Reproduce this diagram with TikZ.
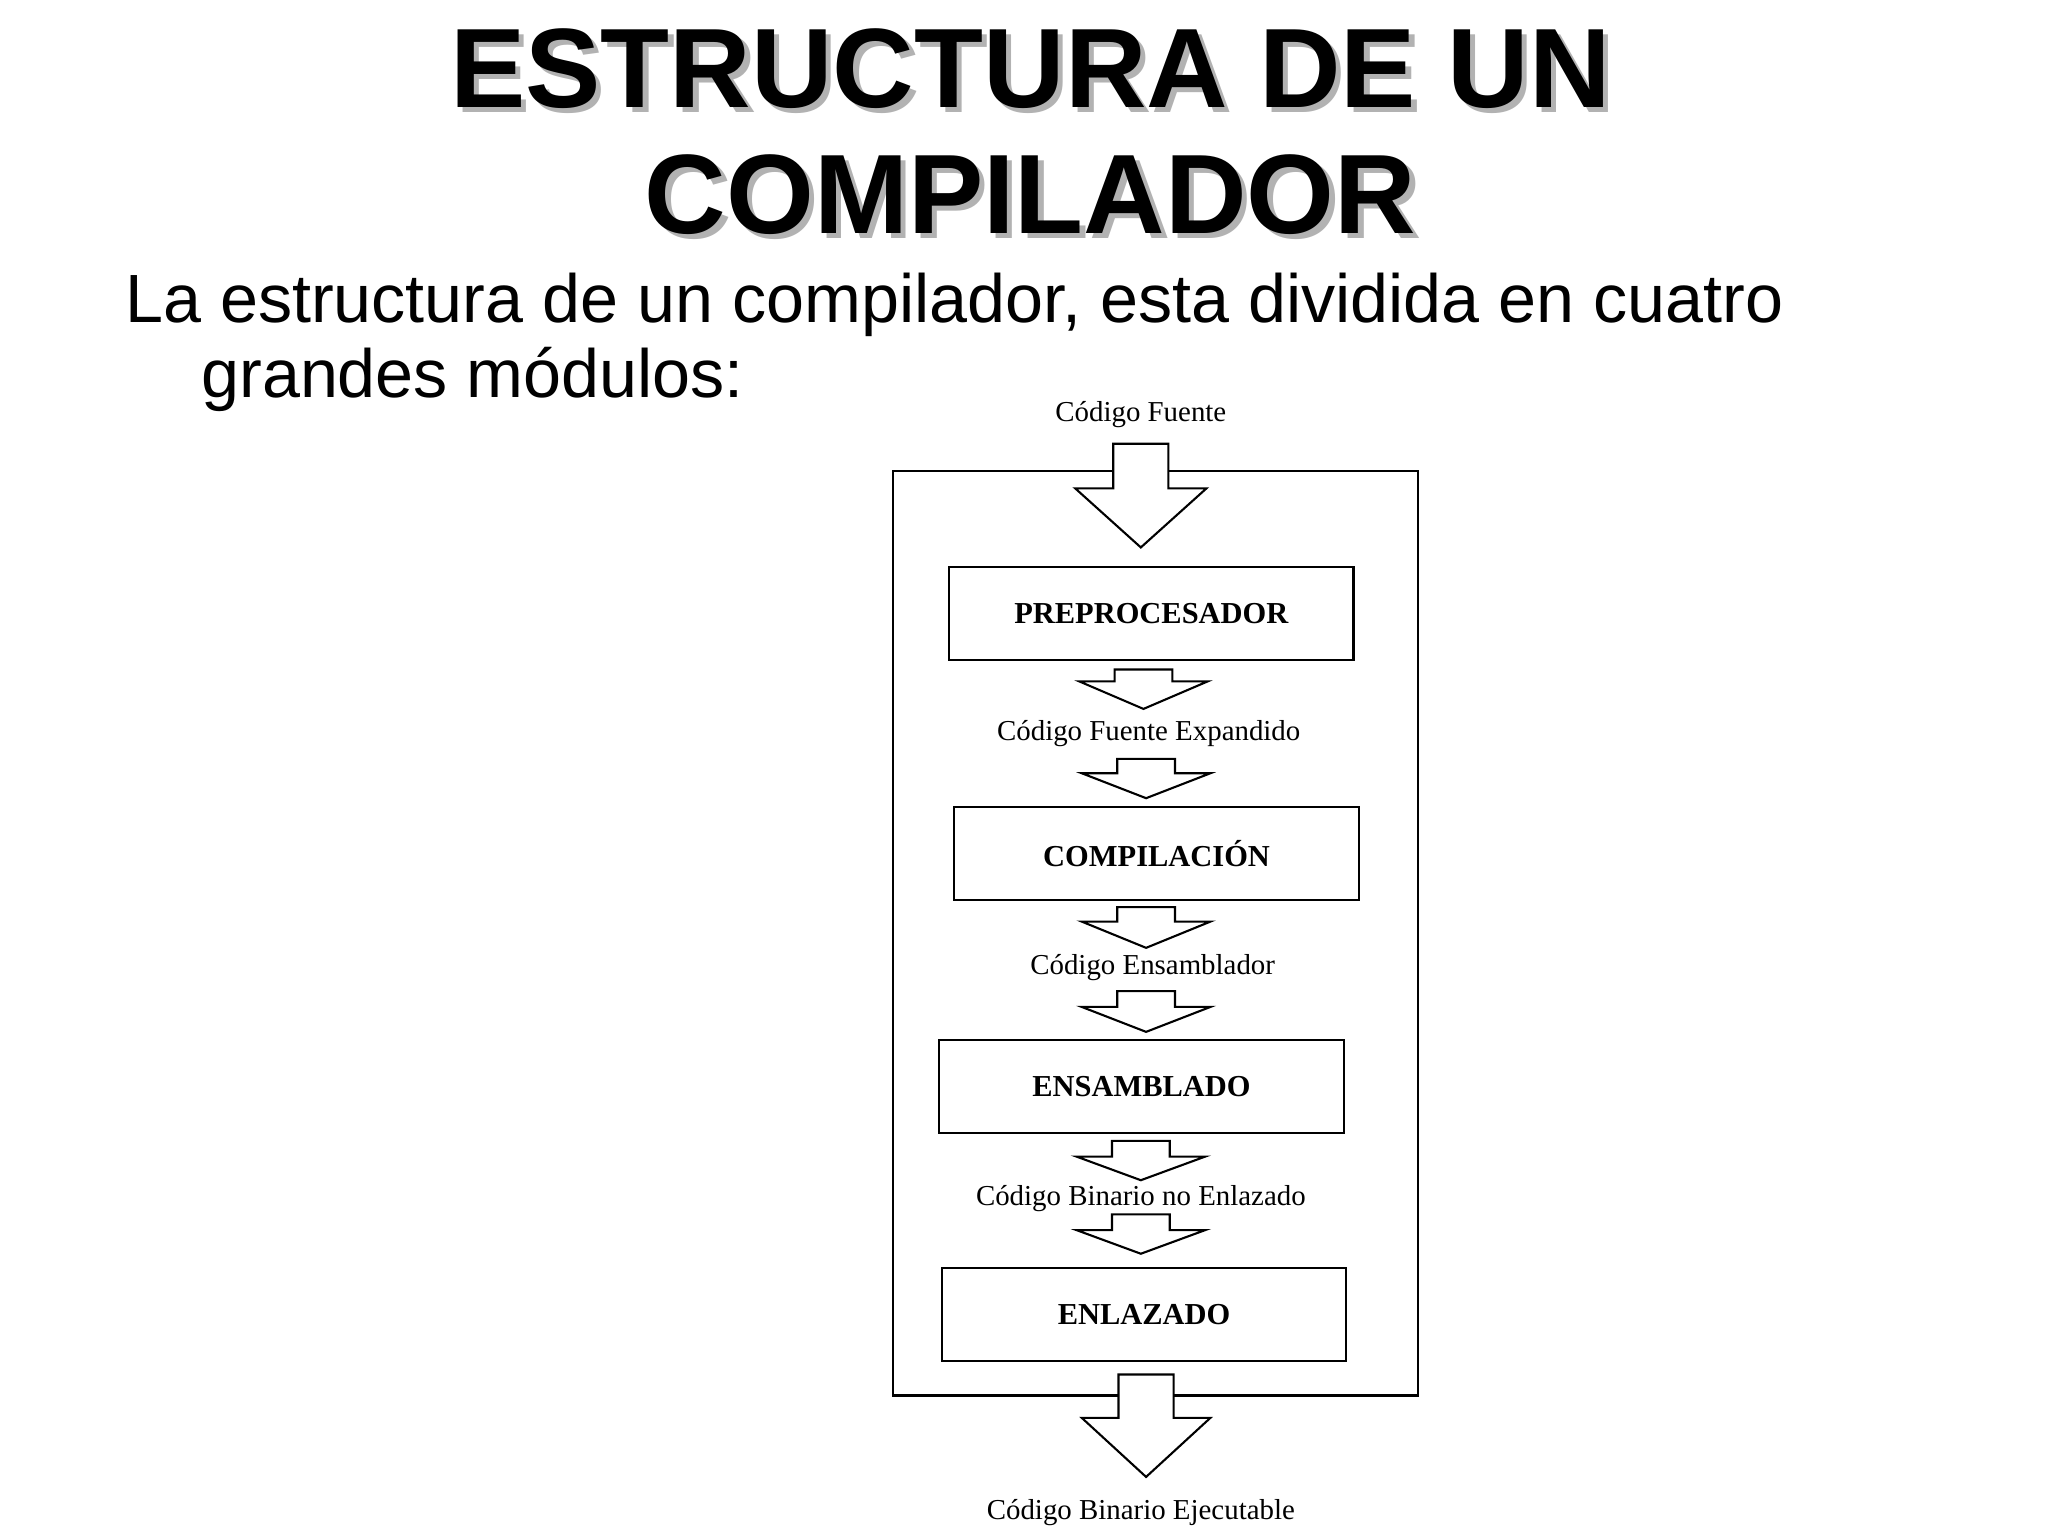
\documentclass[tikz,border=0pt]{standalone}
\usepackage{fontspec}
\setmainfont{Liberation Sans}
\newfontfamily\serifd{Liberation Serif}
\begin{document}
\begin{tikzpicture}[x=0.5pt,y=-0.5pt,
  box/.style={draw,thick,minimum width=154pt,minimum height=35.5pt,font=\serifd\bfseries\fontsize{11.6}{13}\selectfont},
  lbl/.style={font=\serifd\fontsize{11}{13}\selectfont,inner sep=0pt},
  arr/.style={draw,thick,fill=white}]
\useasboundingbox (0,0) rectangle (1560,1170);
\newcommand\flowarr[6]{% cx, top, shaftbottom, tip, halfshaft, halfhead
  \draw[arr] ({#1-#5},#2) -- ({#1+#5},#2) -- ({#1+#5},#3) -- ({#1+#6},#3) -- (#1,#4) -- ({#1-#6},#3) -- ({#1-#5},#3) -- cycle;}
% title
\node[text=gray!60,font=\bfseries\fontsize{43}{50}\selectfont] (t1s) at (789,56) {ESTRUCTURA DE UN};
\node[font=\bfseries\fontsize{43}{50}\selectfont] (t1) at (785,52) {ESTRUCTURA DE UN};
\node[text=gray!60,font=\bfseries\fontsize{43}{50}\selectfont] (t2s) at (789,152) {COMPILADOR};
\node[font=\bfseries\fontsize{43}{50}\selectfont] (t2) at (785,148) {COMPILADOR};
\node[anchor=base west,inner sep=0pt,font=\fontsize{26}{30}\selectfont] (p1) at (95,246) {La estructura de un compilador, esta dividida en cuatro};
\node[anchor=base west,inner sep=0pt,font=\fontsize{26}{30}\selectfont] (p2) at (153,303) {grandes módulos:};
% diagram
\draw[thick] (680,359) rectangle (1080,1063);
\node[lbl] (cf) at (869,316) {Código Fuente};
\flowarr{869}{338}{372}{417}{21}{50}
\node[box] (b1) at (877,467.5) {PREPROCESADOR};
\flowarr{871}{510}{519}{540}{22}{49}
\node[lbl] (l1) at (875,559) {Código Fuente Expandido};
\flowarr{873}{578}{589}{608}{22}{49}
\node[box] (b2) at (881,650) {COMPILACIÓN};
\flowarr{873}{691}{702}{722}{22}{49}
\node[lbl] (l2) at (878,737) {Código Ensamblador};
\flowarr{873}{755}{767}{786}{22}{49}
\node[box] (b3) at (869.5,827.5) {ENSAMBLADO};
\flowarr{869}{869}{881}{899}{22}{49}
\node[lbl] (l3) at (869,913) {Código Binario no Enlazado};
\flowarr{869}{925}{937}{955}{22}{49}
\node[box] (b4) at (871.5,1001.5) {ENLAZADO};
\flowarr{873}{1047}{1080}{1125}{21}{49}
\node[lbl] (l4) at (869,1152) {Código Binario Ejecutable};
\end{tikzpicture}
\end{document}
